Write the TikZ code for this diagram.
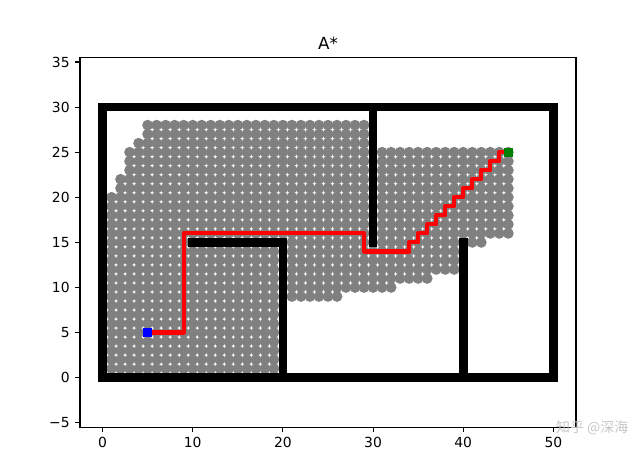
\documentclass[tikz,border=0pt]{standalone}
\usepackage{fontspec}
\setmainfont{DejaVu Sans}
\newfontfamily\zhfont{Noto Sans CJK SC}
\usetikzlibrary{positioning}
\tikzset{
  explored/.style={fill=gray},
  wall/.style={line width=8.5bp,line cap=rect},
  route/.style={draw=red,line width=4.2bp,line join=round},
  marker/.style={inner sep=0pt,minimum size=9bp},
  axisline/.style={line width=1.1bp},
  ticklabel/.style={font=\fontsize{13.9bp}{16bp}\selectfont,inner sep=0pt}
}
\begin{document}
\begin{tikzpicture}[x=9.018bp,y=9.018bp]
  \useasboundingbox (-11.37,-8.35) rectangle (59.60,41.88);

  \foreach \ya/\yb/\xa/\xb in {1/14/1/19, 15/15/1/9, 15/15/21/29, 15/15/31/39, 15/15/41/42,
      9/9/21/26, 10/10/21/32, 11/11/21/36, 12/14/21/39, 16/20/1/29, 21/22/2/29,
      23/25/3/29, 26/26/4/29, 27/28/5/29, 16/25/31/45}
    \foreach \y in {\ya,...,\yb}
      \foreach \x in {\xa,...,\xb}
        \fill[explored] (\x,\y) circle (0.6);

  \draw[wall] (0,0) rectangle (50,30);
  \draw[wall] (10,15) -- (20,15) -- (20,0);
  \draw[wall] (30,15) -- (30,30);
  \draw[wall] (40,0) -- (40,15);

  \coordinate (start) at (5,5);
  \coordinate (goal) at (45,25);
  \draw[route] (start) -- ++(4,0) -- ++(0,11) -- ++(20,0) -- ++(0,-2) -- ++(5,0)
    foreach \s in {1,...,10} { -- ++(0,1) -- ++(1,0) } -- ++(0,1) -- (goal);
  \node[marker,fill=blue] (startmark) at (start) {};
  \node[marker,fill=green!50!black] (goalmark) at (goal) {};

  \draw[axisline] (-2.5,-5.49) rectangle (52.5,35.49);
  \foreach \t in {0,10,...,50}
    \draw[axisline] (\t,-5.49) -- (\t,-6.03) node[ticklabel,below=4.9bp] (xtick\t) {\t};
  \foreach \t/\lab [count=\k] in {-5/−5,0/0,5/5,10/10,15/15,20/20,25/25,30/30,35/35}
    \draw[axisline] (-2.5,\t) -- (-3.04,\t) node[ticklabel,left=4.9bp] (ytick\k) {\lab};
  \node[font=\fontsize{16.7bp}{20bp}\selectfont,anchor=base] (title) at (25,36.41) {A*};
  \node[font=\zhfont\fontsize{14bp}{16bp}\selectfont,text=gray!45] (mark) at (54.3,-5.6) {知乎 @深海};
\end{tikzpicture}
\end{document}
